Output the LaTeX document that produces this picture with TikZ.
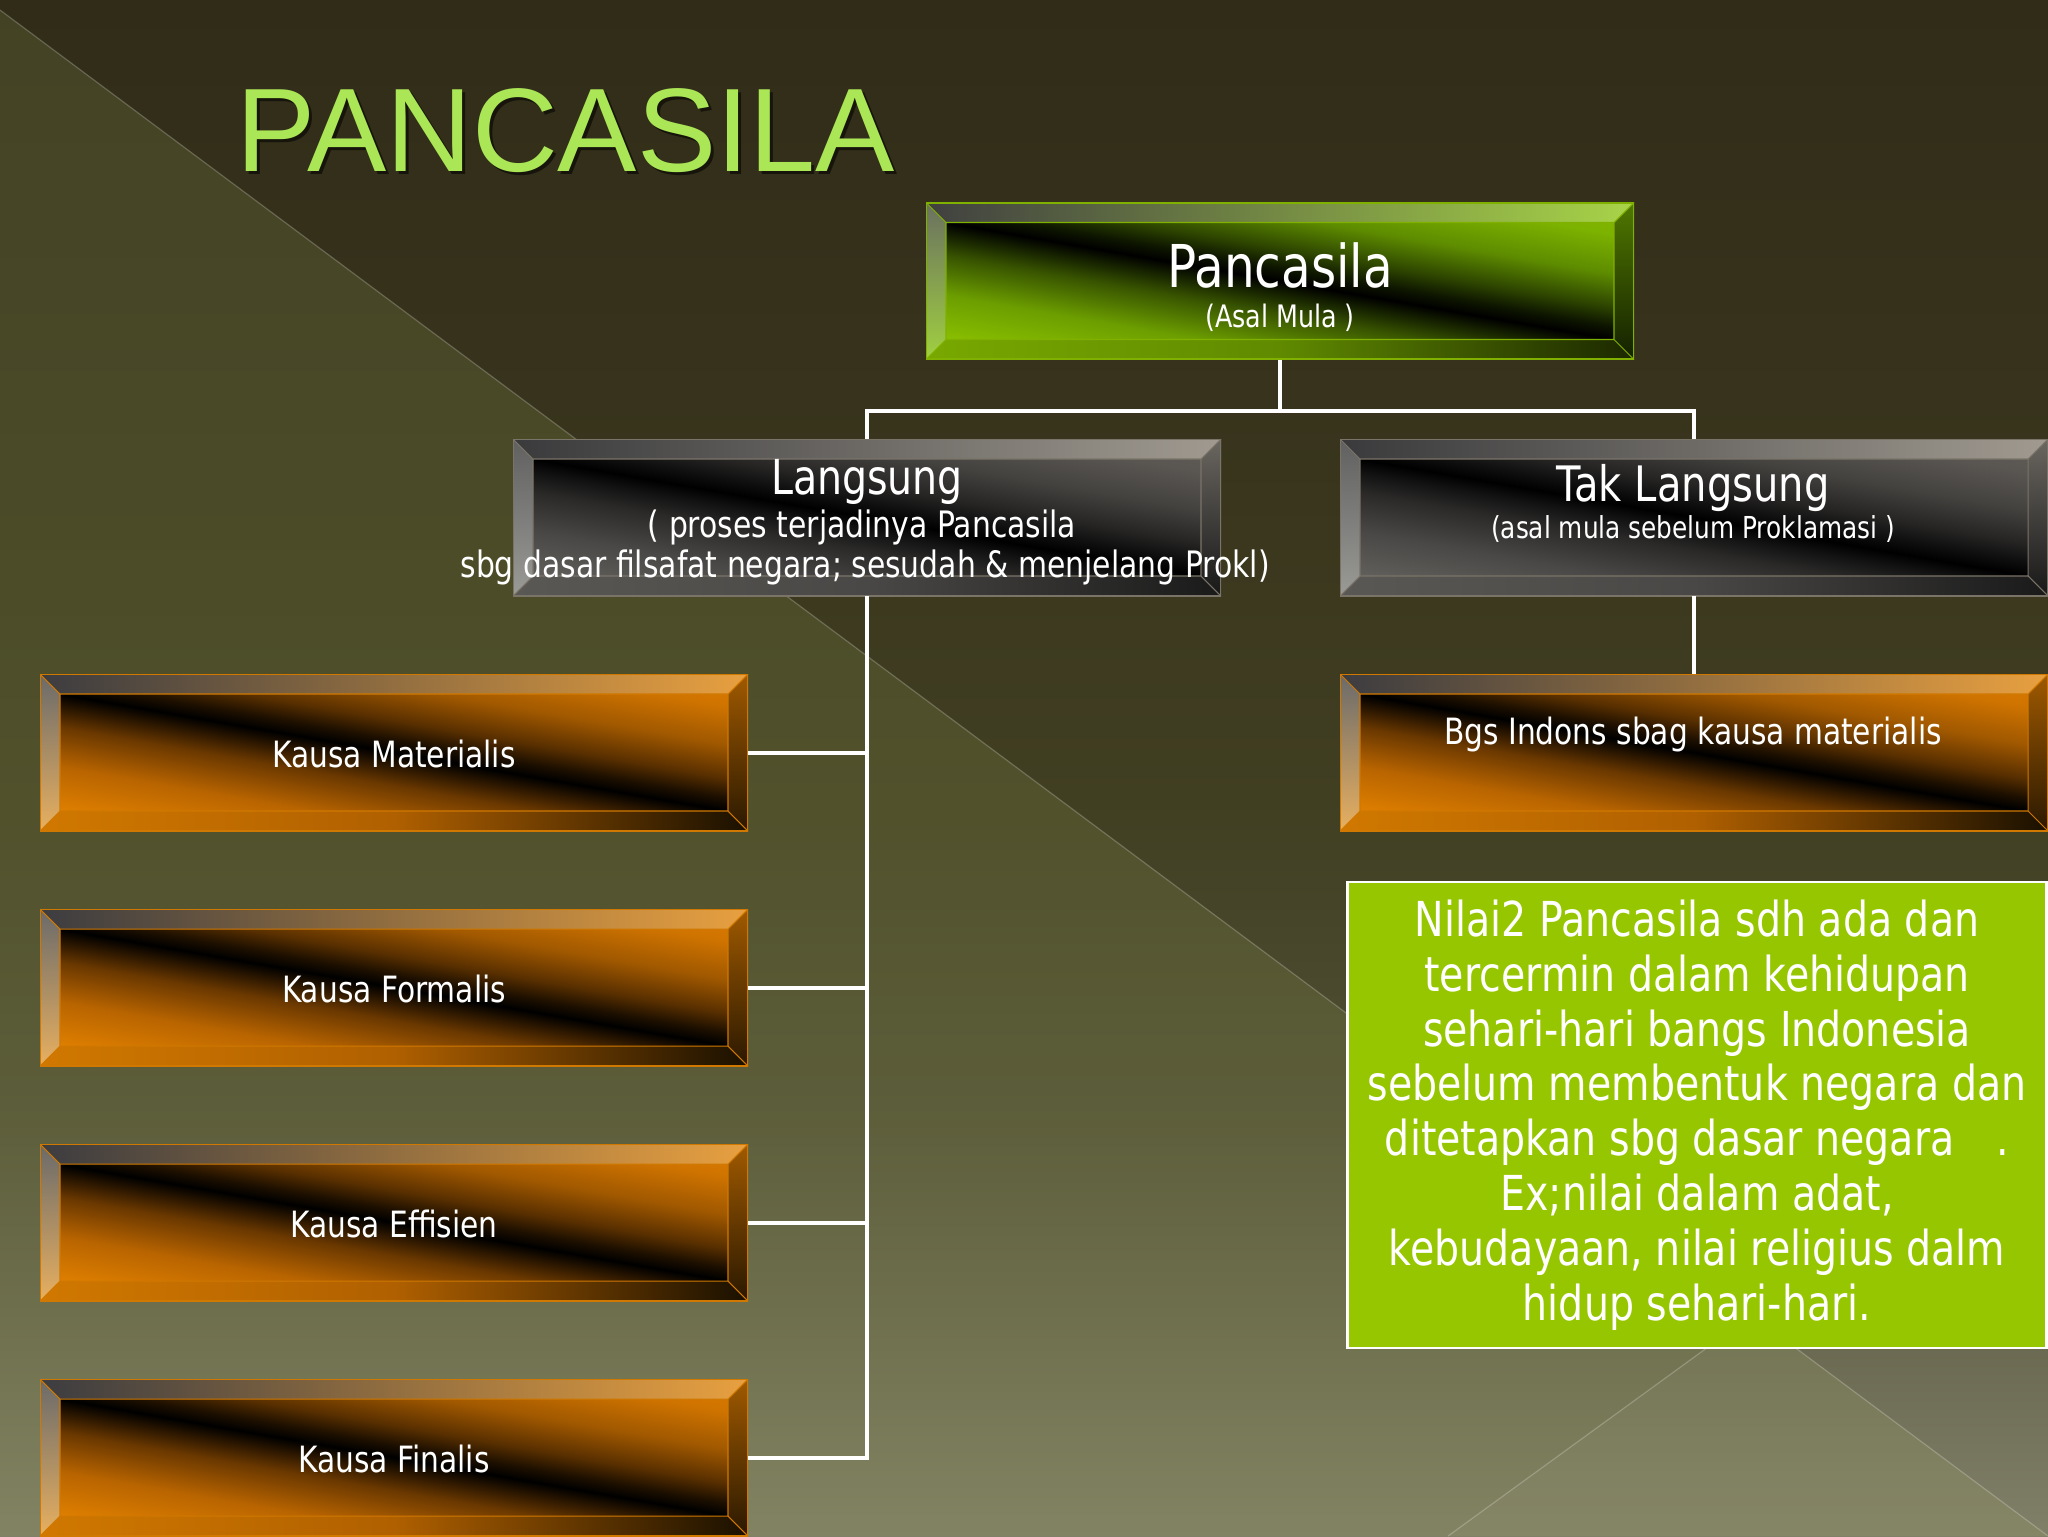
\documentclass[tikz,border=0pt]{standalone}
\usepackage{fontspec}
\newfontfamily\tah[FakeStretch=0.82]{DejaVu Sans}
\newfontfamily\ttl{Liberation Sans}
% background
\definecolor{bg0}{HTML}{302C18}
\definecolor{bg1}{HTML}{37331C}
\definecolor{bg2}{HTML}{413F22}
\definecolor{bg3}{HTML}{504E34}
\definecolor{bg4}{HTML}{807F68}
\definecolor{olivetint}{HTML}{8A9450}
\definecolor{titlegreen}{HTML}{AAE655}
\definecolor{nilaigreen}{HTML}{96C600}
% orange palette
\definecolor{orF0}{HTML}{EC8C14}\definecolor{orF1}{HTML}{E08000}\definecolor{orF2}{HTML}{B86400}
\definecolor{orF3}{HTML}{6A3800}\definecolor{orF4}{HTML}{2A1600}\definecolor{orF5}{HTML}{1E1000}
\definecolor{orF6}{HTML}{5A3000}\definecolor{orF7}{HTML}{A05800}\definecolor{orF8}{HTML}{D07400}\definecolor{orF9}{HTML}{E08400}
\definecolor{orT1}{HTML}{3C3C40}\definecolor{orT2}{HTML}{E8A040}
\definecolor{orL1}{HTML}{6A6A6A}\definecolor{orL2}{HTML}{E8B060}
\definecolor{orB1}{HTML}{D07800}\definecolor{orBm}{HTML}{B06000}\definecolor{orB2}{HTML}{1A1000}
\definecolor{orR1}{HTML}{A05A00}\definecolor{orR2}{HTML}{2A1800}
\definecolor{orE}{HTML}{D07800}
% grey palette
\definecolor{grF0}{HTML}{6E6C68}\definecolor{grF1}{HTML}{62605C}\definecolor{grF2}{HTML}{4A4846}
\definecolor{grF3}{HTML}{2A2928}\definecolor{grF4}{HTML}{121212}\definecolor{grF5}{HTML}{0E0E0E}
\definecolor{grF6}{HTML}{262524}\definecolor{grF7}{HTML}{44423F}\definecolor{grF8}{HTML}{5A5753}\definecolor{grF9}{HTML}{66625C}
\definecolor{grT1}{HTML}{3A3A3C}\definecolor{grT2}{HTML}{A09A90}
\definecolor{grL1}{HTML}{606060}\definecolor{grL2}{HTML}{9A9A96}
\definecolor{grB1}{HTML}{5A5854}\definecolor{grBm}{HTML}{4A4846}\definecolor{grB2}{HTML}{1A1A1A}
\definecolor{grR1}{HTML}{6A6660}\definecolor{grR2}{HTML}{181818}
\definecolor{grE}{HTML}{7A7468}
% green palette
\definecolor{gnF0}{HTML}{94CC00}\definecolor{gnF1}{HTML}{8AC000}\definecolor{gnF2}{HTML}{6C9E00}
\definecolor{gnF3}{HTML}{385400}\definecolor{gnF4}{HTML}{162200}\definecolor{gnF5}{HTML}{0E1600}
\definecolor{gnF6}{HTML}{2E4600}\definecolor{gnF7}{HTML}{5E8C00}\definecolor{gnF8}{HTML}{7CB200}\definecolor{gnF9}{HTML}{8CC400}
\definecolor{gnT1}{HTML}{404040}\definecolor{gnT2}{HTML}{A8D448}
\definecolor{gnL1}{HTML}{6A7060}\definecolor{gnL2}{HTML}{A0D040}
\definecolor{gnB1}{HTML}{78A800}\definecolor{gnBm}{HTML}{608A00}\definecolor{gnB2}{HTML}{1C2800}
\definecolor{gnR1}{HTML}{507800}\definecolor{gnR2}{HTML}{142000}
\definecolor{gnE}{HTML}{80B000}

\pgfdeclarehorizontalshading{orface}{100bp}{color(0bp)=(orF0); color(14bp)=(orF1); color(28bp)=(orF2); color(40bp)=(orF3); color(46bp)=(orF4); color(50bp)=(black); color(54bp)=(orF5); color(60bp)=(orF6); color(70bp)=(orF7); color(82bp)=(orF8); color(100bp)=(orF9)}
\pgfdeclarehorizontalshading{grface}{100bp}{color(0bp)=(grF0); color(14bp)=(grF1); color(28bp)=(grF2); color(40bp)=(grF3); color(46bp)=(grF4); color(50bp)=(black); color(54bp)=(grF5); color(60bp)=(grF6); color(70bp)=(grF7); color(82bp)=(grF8); color(100bp)=(grF9)}
\pgfdeclarehorizontalshading{gnface}{100bp}{color(0bp)=(gnF0); color(14bp)=(gnF1); color(28bp)=(gnF2); color(40bp)=(gnF3); color(46bp)=(gnF4); color(50bp)=(black); color(54bp)=(gnF5); color(60bp)=(gnF6); color(70bp)=(gnF7); color(82bp)=(gnF8); color(100bp)=(gnF9)}
\pgfdeclareverticalshading{bgsh}{100bp}{color(0bp)=(bg4); color(25bp)=(bg4); color(39bp)=(bg3); color(49bp)=(bg2); color(62bp)=(bg1); color(75bp)=(bg0); color(100bp)=(bg0)}

\def\bw{2mm}
\def\bp{or}
\newcommand{\bevelpic}{%
  \colorlet{bvT1}{\bp T1}\colorlet{bvT2}{\bp T2}%
  \colorlet{bvL1}{\bp L1}\colorlet{bvL2}{\bp L2}%
  \colorlet{bvB1}{\bp B1}\colorlet{bvBm}{\bp Bm}\colorlet{bvB2}{\bp B2}%
  \colorlet{bvR1}{\bp R1}\colorlet{bvR2}{\bp R2}%
  \colorlet{bvE}{\bp E}%
  \coordinate (bvC) at (path picture bounding box.center);
  \coordinate (bvSW) at (path picture bounding box.south west);
  \coordinate (bvNE) at (path picture bounding box.north east);
  \coordinate (bvNW) at (path picture bounding box.north west);
  \coordinate (bvSE) at (path picture bounding box.south east);
  \coordinate (bvsw) at ([xshift=\bw,yshift=\bw]bvSW);
  \coordinate (bvne) at ([xshift=-\bw,yshift=-\bw]bvNE);
  \coordinate (bvnw) at ([xshift=\bw,yshift=-\bw]bvNW);
  \coordinate (bvse) at ([xshift=-\bw,yshift=\bw]bvSE);
  \begin{scope}[transform canvas={shift={(bvC)}, xscale=33.4, yscale=5.85}]
    \pgftransformreset
    \shade[shading=\bp face, shading angle=45] (-1mm,-1mm) rectangle (1mm,1mm);
  \end{scope}
  \shade[left color=bvT1, right color=bvT2] (bvNW) -- (bvNE) -- (bvne) -- (bvnw) -- cycle;
  \shade[top color=bvL1, bottom color=bvL2] (bvNW) -- (bvnw) -- (bvsw) -- (bvSW) -- cycle;
  \shade[left color=bvB1, right color=bvB2, middle color=bvBm] (bvSW) -- (bvsw) -- (bvse) -- (bvSE) -- cycle;
  \shade[top color=bvR1, bottom color=bvR2] (bvNE) -- (bvSE) -- (bvse) -- (bvne) -- cycle;
  \draw[draw=bvE, line width=0.3pt] (bvsw) rectangle (bvne) (bvNW) -- (bvnw) (bvNE) -- (bvne) (bvSW) -- (bvsw) (bvSE) -- (bvse);
  \draw[draw=bvE, line width=0.8pt] (bvSW) rectangle (bvNE);
}

\tikzset{
  pal/.code={\def\bp{#1}},
  bbox/.style={minimum width=70.8mm, minimum height=15.7mm, inner sep=0pt, outer sep=0pt, path picture={\bevelpic}},
  orbox/.style={bbox, pal=or},
  grbox/.style={bbox, pal=gr},
  gnbox/.style={bbox, pal=gn},
  conn/.style={draw=white, line width=0.4mm},
  lbl/.style={anchor=base, text=white, inner sep=0pt, font=\tah\fontsize{#1}{#1}\selectfont},
}

\begin{document}
\begin{tikzpicture}[x=0.1mm, y=-0.1mm]
\useasboundingbox (0,0) rectangle (2048,1536);
% background
\shade[shading=bgsh] (0,0) rectangle (2048,1536);
\fill[olivetint, opacity=0.22] (0,10) -- (2048,1536) -- (0,1536) -- cycle;
\fill[white, opacity=0.03] (1448,1536) -- (1752,1315) -- (2048,1536) -- cycle;
\draw[white, opacity=0.22, line width=0.12mm] (0,10) -- (2048,1536);
\draw[white, opacity=0.22, line width=0.12mm] (1448,1536) -- (2048,1100);

% title
\node[anchor=base west, inner sep=0pt, text=black, opacity=0.55, font=\ttl\fontsize{33.8pt}{36pt}\selectfont] (titleshadow) at (239,174) {PANCASILA};
\node[anchor=base west, inner sep=0pt, text=titlegreen, font=\ttl\fontsize{33.8pt}{36pt}\selectfont] (title) at (236,171) {PANCASILA};

% boxes
\node[gnbox] (top) at (1280,281) {};
\node[grbox] (lang) at (867,517.5) {};
\node[grbox] (tak) at (1694,517.5) {};
\node[orbox] (kmat) at (394,752.5) {};
\node[orbox] (kfor) at (394,987.5) {};
\node[orbox] (keff) at (394,1222.5) {};
\node[orbox] (kfin) at (394,1457.5) {};
\node[orbox] (bgs) at (1694,752.5) {};

% connectors
\coordinate (split) at (1280,411);
\draw[conn] (top.south) -- (split) -| (lang.north);
\draw[conn] (split) -| (tak.north);
\draw[conn] (lang.south) |- (kfin.east);
\draw[conn] (lang.south |- kmat.east) -- (kmat.east);
\draw[conn] (lang.south |- kfor.east) -- (kfor.east);
\draw[conn] (lang.south |- keff.east) -- (keff.east);
\draw[conn] (tak.south) -- (bgs.north);

% texts
\node[lbl=16.8pt] (tPan) at (1280,287) {Pancasila};
\node[lbl=8.8pt] (tAsal) at (1280,327) {(Asal Mula )};
\node[lbl=13.7pt] (tLang) at (867,494) {Langsung};
\node[lbl=10.35pt] (tLang2) at (862,537) {( proses terjadinya Pancasila};
\node[lbl=10.35pt] (tLang3) at (865,577) {sbg dasar filsafat negara; sesudah \& menjelang Prokl)};
\node[lbl=13.9pt] (tTak) at (1693,501) {Tak Langsung};
\node[lbl=8.6pt] (tTak2) at (1693,538) {(asal mula sebelum Proklamasi )};
\node[lbl=10.3pt] (tKmat) at (394,767) {Kausa Materialis};
\node[lbl=10.3pt] (tKfor) at (394,1002) {Kausa Formalis};
\node[lbl=10.3pt] (tKeff) at (394,1237) {Kausa Effisien};
\node[lbl=10.3pt] (tKfin) at (394,1472) {Kausa Finalis};
\node[lbl=10.3pt] (tBgs) at (1693,744) {Bgs Indons sbag kausa materialis};

% green text box
\node[draw=white, line width=0.25mm, fill=nilaigreen, minimum width=69.9mm, minimum height=46.6mm, inner sep=0pt, align=center, text=white, font=\tah\fontsize{13.7pt}{15.6pt}\selectfont] (nilai) at (1697,1115)
{Nilai2 Pancasila sdh ada dan\\
tercermin dalam kehidupan\\
sehari-hari bangs Indonesia\\
sebelum membentuk negara dan\\
ditetapkan sbg dasar negara\hspace{4.2mm}.\\
Ex;nilai dalam adat,\\
kebudayaan, nilai religius dalm\\
hidup sehari-hari.};
\end{tikzpicture}
\end{document}
